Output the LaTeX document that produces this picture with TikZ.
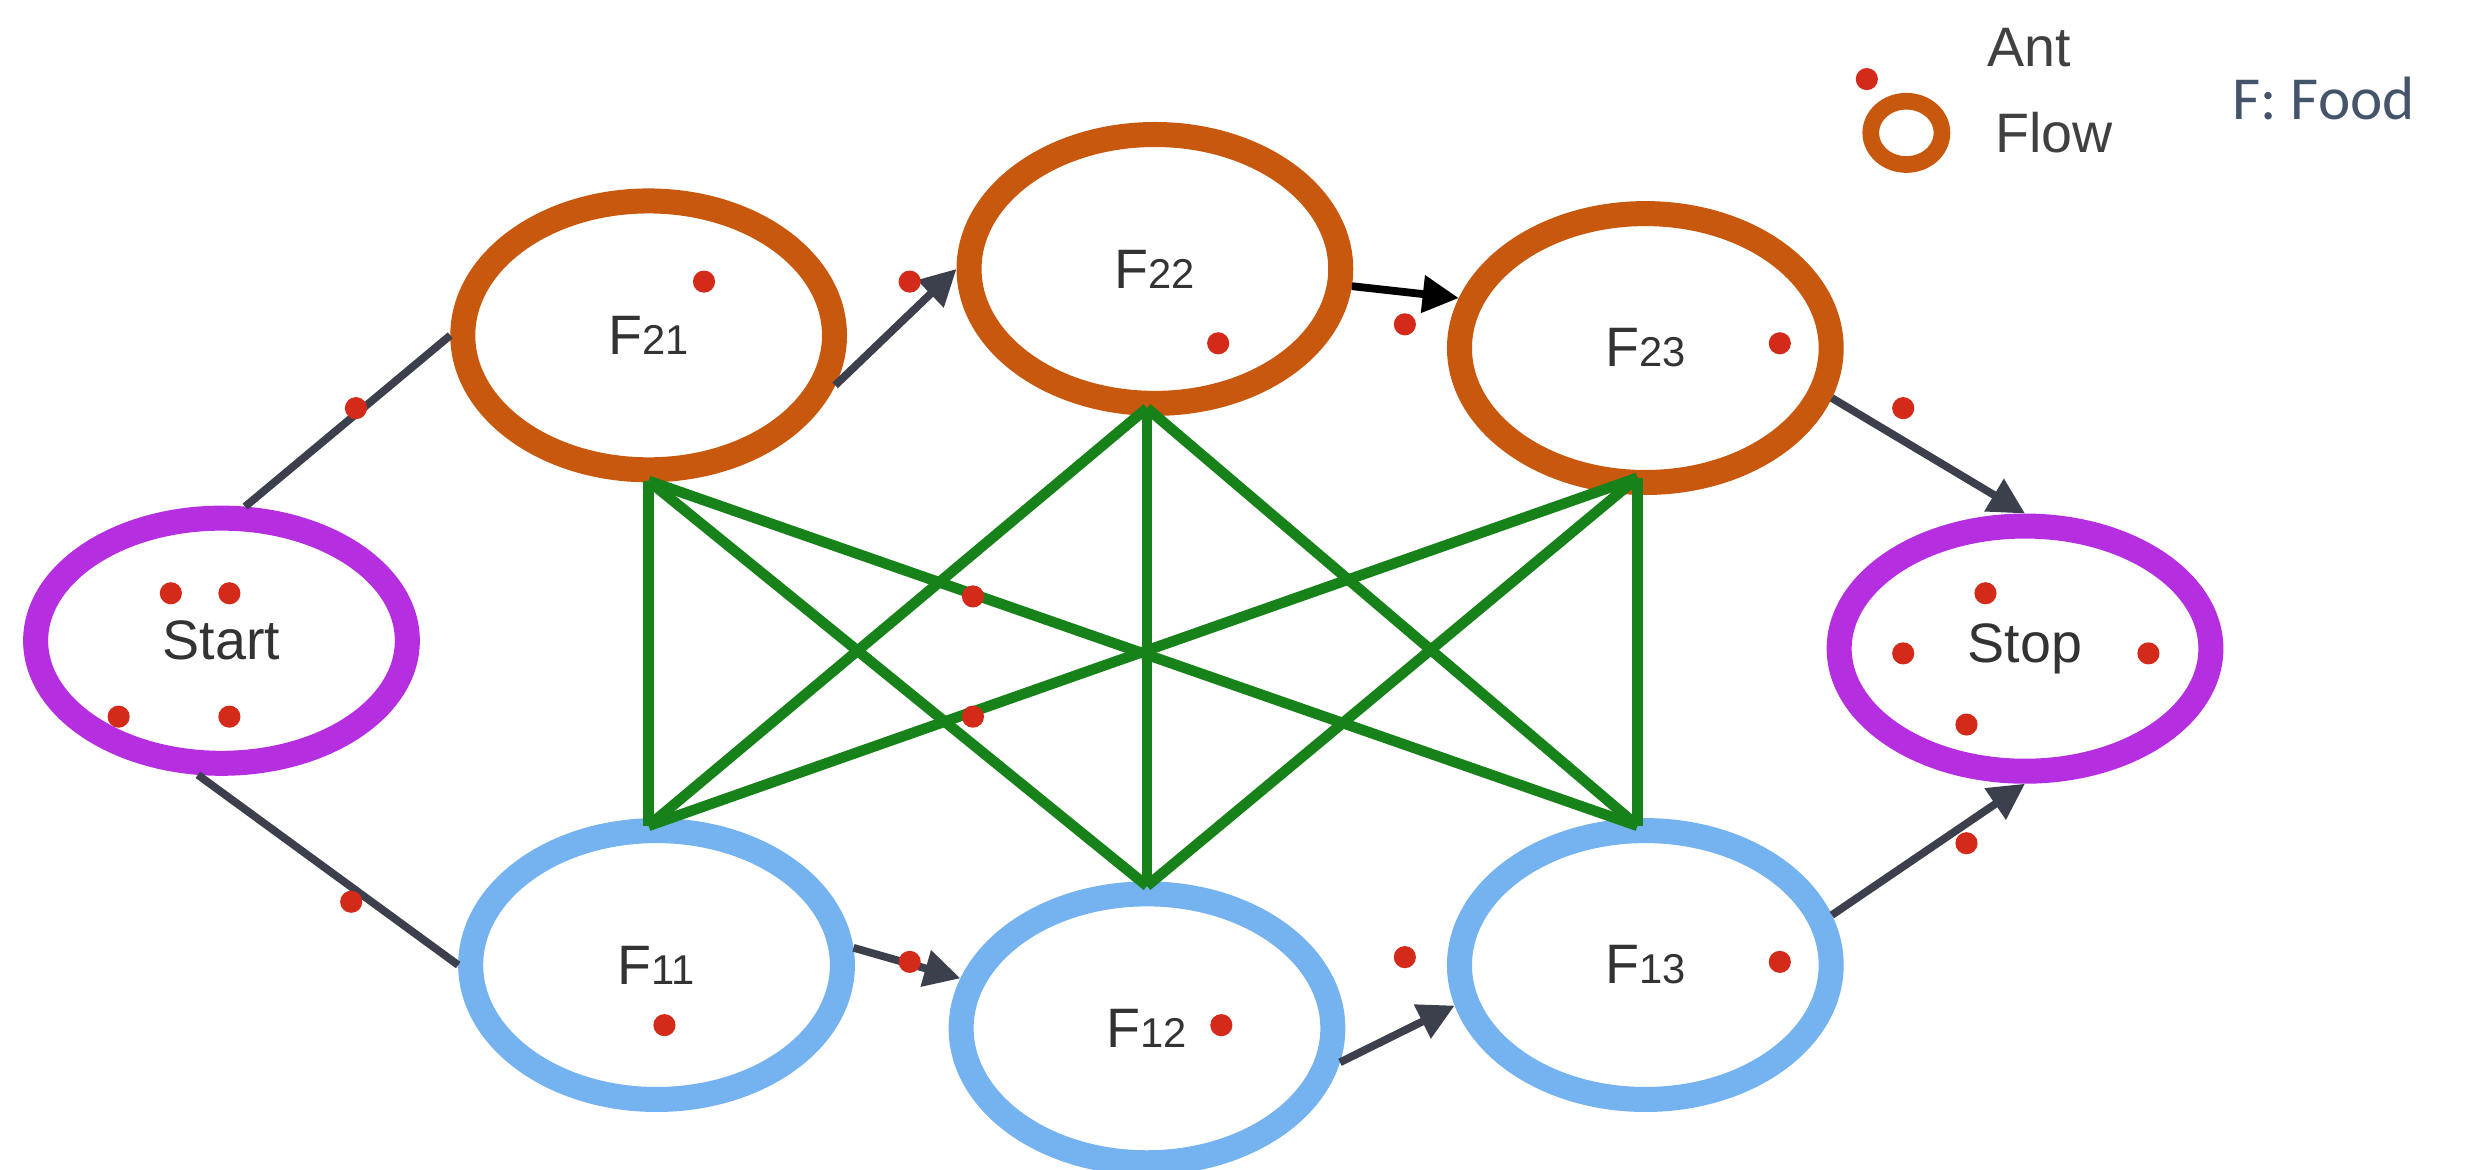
\documentclass[tikz,border=0pt]{standalone}
\usepackage{fontspec}
\setmainfont{Liberation Sans}
\newfontfamily\calib{Carlito}
\usetikzlibrary{shapes.geometric,arrows.meta}
\definecolor{purp}{HTML}{B52EE0}
\definecolor{oran}{HTML}{C8580E}
\definecolor{lblue}{HTML}{74B3F0}
\definecolor{grn}{HTML}{17821A}
\definecolor{dgray}{HTML}{3B404C}
\definecolor{antred}{HTML}{D42A1A}
\definecolor{slate}{HTML}{44546A}
\tikzset{
 ell/.style={ellipse,line width=9pt,minimum width=4.7cm,minimum height=3.4cm,inner sep=0pt,font=\fontsize{20}{22}\selectfont,text=black!80},
 stoe/.style={ell,draw=purp,minimum width=4.7cm,minimum height=3.1cm},
 ore/.style={ell,draw=oran},
 ble/.style={ell,draw=lblue},
 conn/.style={draw=dgray,line width=2.8pt},
 carr/.style={conn,-{Triangle[length=13pt,width=13pt]}},
 gl/.style={draw=grn,line width=3.8pt},
 ant/.style={circle,fill=antred,minimum size=0.28cm,inner sep=0pt}
}
\newcommand{\Fs}[1]{F{\fontsize{15}{16}\selectfont #1}}
\begin{document}
\begin{tikzpicture}[x=0.02cm,y=-0.02cm]
\useasboundingbox (0,0) rectangle (1560,739);
\node[stoe] (start) at (140,405) {Start};
\node[stoe] (stop) at (1280,410) {Stop};
\node[ore] (f21) at (410,212) {\Fs{21}};
\node[ore] (f22) at (730,170) {\Fs{22}};
\node[ore] (f23) at (1040,220) {\Fs{23}};
\node[ble] (f11) at (415,610) {\Fs{11}};
\node[ble] (f12) at (725,650) {\Fs{12}};
\node[ble] (f13) at (1040,610) {\Fs{13}};
% green
\coordinate (t1) at (410,304); \coordinate (t2) at (725,258); \coordinate (t3) at (1035,302);
\coordinate (b1) at (410,522); \coordinate (b2) at (725,560); \coordinate (b3) at (1035,522);
\foreach \a in {t1,t2,t3}{\foreach \b in {b1,b2,b3}{\draw[gl] (\a)--(\b);}}
% connectors
\draw[conn] (start.80) -- (f21.west);
\draw[conn] (start.-100) -- (f11.west);
\draw[carr] (f21.-15) -- (f22.180);
\draw[draw=black,line width=2.8pt,-{Triangle[length=13pt,width=13pt]}] (f22.-5) -- (f23.165);
\draw[carr] (f23.-15) -- (stop.north);
\draw[carr] (f11.5) -- (f12.165);
\draw[carr] (f12.-10) -- (f13.192);
\draw[carr] (f13.15) -- (stop.south);
% ants
\foreach \p [count=\i] in {(225,258),(445,178),(575,178),(770,217),(888,205),(1125,217),(1203,258),(108,375),(145,375),(75,453),(145,453),(615,377),(615,453),(222,570),(420,648),(575,608),(772,648),(888,605),(1125,608),(1243,533),(1255,375),(1203,413),(1358,413),(1243,458),(1180,50)}
  \node[ant] (a\i) at \p {};
% legend
\node[ellipse,draw=oran,line width=6pt,minimum width=0.9cm,minimum height=0.8cm] (lg) at (1205,84) {};
\node[anchor=west,font=\fontsize{20}{22}\selectfont,text=black!75] (lant) at (1250,30) {Ant};
\node[anchor=west,font=\fontsize{20}{22}\selectfont,text=black!75] (lflow) at (1255,84) {Flow};
\node[anchor=west,font=\calib\fontsize{22}{24}\selectfont,text=slate] (lf) at (1405,62) {F: Food};
\end{tikzpicture}
\end{document}
